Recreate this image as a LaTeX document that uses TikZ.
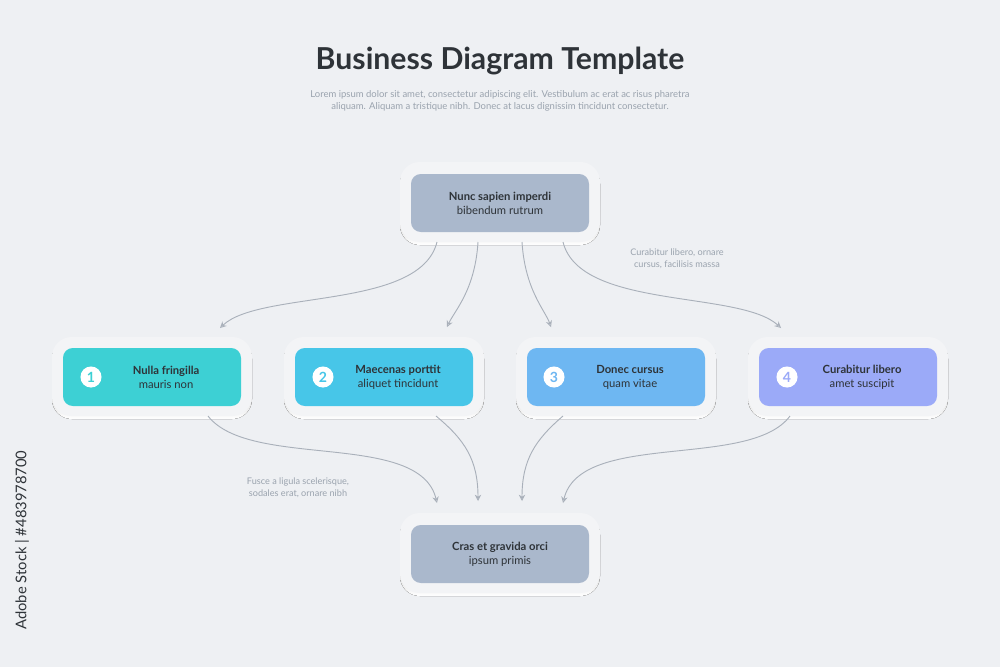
\documentclass[tikz,border=0pt]{standalone}
\usepackage{fontspec}
\setmainfont{Lato}
\usetikzlibrary{arrows.meta}
\definecolor{bg}{HTML}{EEF0F3}
\definecolor{outer}{HTML}{F3F4F6}
\definecolor{shade}{HTML}{E2E5EA}
\definecolor{topc}{HTML}{AAB8CC}
\definecolor{cA}{HTML}{3DD0D4}
\definecolor{cB}{HTML}{47C6E8}
\definecolor{cC}{HTML}{6EB7F2}
\definecolor{cD}{HTML}{9BAAF8}
\definecolor{txt}{HTML}{2E3338}
\definecolor{gtxt}{HTML}{9AA3AE}
\definecolor{line}{HTML}{A9B0BA}
\tikzset{
  x=0.05cm,y=-0.05cm,
  pill/.style={rounded corners=14pt,minimum width=178*0.05cm,minimum height=58*0.05cm,inner sep=0pt,align=center,text=txt,font=\fontsize{16}{20}\selectfont},
  conn/.style={draw=line,line width=1.3pt,-{Stealth[length=9pt,width=9pt,open]}},
  gray/.style={text=gtxt,font=\fontsize{13}{17}\selectfont,align=center},
  num/.style={circle,fill=white,minimum size=30pt,inner sep=0pt,font=\bfseries\fontsize{20}{20}\selectfont}
}
\begin{document}
\begin{tikzpicture}
\fill[bg] (0,0) rectangle (1000,667);
\useasboundingbox (0,0) rectangle (1000,667);
\node[font=\bfseries\fontsize{43}{50}\selectfont,text=txt] (title) at (500,61) {Business Diagram Template};
\node[gray,font=\fontsize{13.5}{18}\selectfont] (sub) at (500,101) {Lorem ipsum dolor sit amet, consectetur adipiscing elit. Vestibulum ac erat ac risus pharetra\\aliquam. Aliquam a tristique nibh. Donec at lacus dignissim tincidunt consectetur.};
% outer frames
\fill[shade,rounded corners=28pt] (400,164) rectangle (600,245);
\fill[outer,rounded corners=28pt] (400,162) rectangle (600,242);
\fill[shade,rounded corners=28pt] (400,515) rectangle (600,596);
\fill[outer,rounded corners=28pt] (400,513) rectangle (600,593);
\foreach \cx in {152,384,616,848}{
  \fill[shade,rounded corners=28pt] (\cx-100,339) rectangle (\cx+100,419);
  \fill[outer,rounded corners=28pt] (\cx-100,337) rectangle (\cx+100,416);
}
\node[pill,fill=topc] (top) at (500,203) {\textbf{Nunc sapien imperdi}\\bibendum rutrum};
\node[pill,fill=topc] (bot) at (500,554) {\textbf{Cras et gravida orci}\\ipsum primis};
\node[pill,fill=cA] (n1) at (152,377) {\hspace*{40pt}\textbf{Nulla fringilla}\\\hspace*{40pt}mauris non};
\node[pill,fill=cB] (n2) at (384,377) {\hspace*{40pt}\textbf{Maecenas porttit}\\\hspace*{40pt}aliquet tincidunt};
\node[pill,fill=cC] (n3) at (616,377) {\hspace*{40pt}\textbf{Donec cursus}\\\hspace*{40pt}quam vitae};
\node[pill,fill=cD] (n4) at (848,377) {\hspace*{40pt}\textbf{Curabitur libero}\\\hspace*{40pt}amet suscipit};
\node[num,text=cA] (k1) at (91,377) {1};
\node[num,text=cB] (k2) at (323,377) {2};
\node[num,text=cC] (k3) at (554,377) {3};
\node[num,text=cD] (k4) at (787,377) {4};
% connectors top
\coordinate (t1) at (437,242); \coordinate (t2) at (478,242);
\coordinate (t3) at (522,242); \coordinate (t4) at (563,242);
\coordinate (e1) at (220,328); \coordinate (e2) at (447,327);
\coordinate (e3) at (551,327); \coordinate (e4) at (781,328);
\draw[conn] (t1) .. controls (420,310) and (260,290) .. (e1);
\draw[conn] (t2) .. controls (475,290) and (455,310) .. (e2);
\draw[conn] (t3) .. controls (525,290) and (545,310) .. (e3);
\draw[conn] (t4) .. controls (580,310) and (740,290) .. (e4);
\coordinate (b1) at (208,416); \coordinate (b2) at (436,416);
\coordinate (b3) at (563,416); \coordinate (b4) at (790,416);
\coordinate (f1) at (437,503); \coordinate (f2) at (478,501);
\coordinate (f3) at (522,501); \coordinate (f4) at (563,503);
\draw[conn] (b1) .. controls (250,470) and (420,430) .. (f1);
\draw[conn] (b2) .. controls (465,440) and (478,460) .. (f2);
\draw[conn] (b3) .. controls (535,440) and (522,460) .. (f3);
\draw[conn] (b4) .. controls (750,470) and (580,430) .. (f4);
\node[gray] (l1) at (677,259) {Curabitur libero, ornare\\cursus, facilisis massa};
\node[gray] (l2) at (298,488) {Fusce a ligula scelerisque,\\sodales erat, ornare nibh};
\node[rotate=90,text=txt,font=\fontsize{21}{21}\selectfont] (wm) at (22,540) {Adobe Stock | \#483978700};
\end{tikzpicture}
\end{document}
